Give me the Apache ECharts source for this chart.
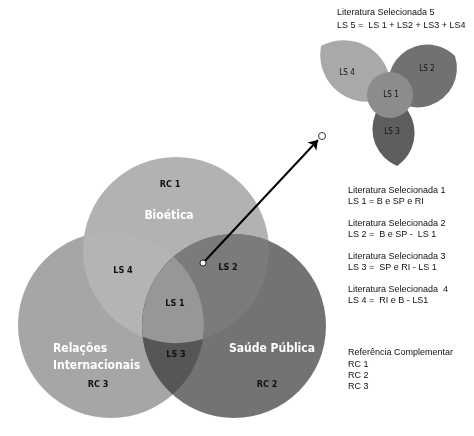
<!DOCTYPE html>
<html>
<head>
<meta charset="utf-8">
<script src="https://cdn.jsdelivr.net/npm/echarts@6/dist/echarts.min.js"></script>
<style>html,body{margin:0;background:#fff}#chart{width:474px;height:436px}</style>
</head>
<body>
<div id="chart"></div>
<script>
// big venn: circles [cx, cy, r]
const setNames = ['Bioética', 'Relações Internacionais', 'Saúde Pública'];
const circles = [[176, 250, 93], [111, 325, 93], [234, 326, 92]];
const circleColors = ['#b2b2b2', '#a6a6a6', '#737373'];
// pair overlaps: [i, j, label]
const pairs = [[0, 1, 'LS 4'], [0, 2, 'LS 2'], [1, 2, 'LS 3']];
const pairColors = ['#b4b4b4', '#7b7b7b', '#565656'];
const tripleColor = '#979797';
// small venn: petals from hub to tip, [tipX, tipY, halfWidth]
const hub = [390, 96];
const petals = [[321, 46, 27, 'LS 4'], [455, 56, 30, 'LS 2'], [397, 166, 21, 'LS 3']];
const petalColors = ['#a9a9a9', '#717171', '#5e5e5e'];
const hubCircle = [390, 95, 23, 'LS 1'];
const arrowLine = [[203, 263], [322, 136]];

const legendLines = [
  ['Literatura Selecionada 1', 'LS 1 = B e SP e RI'],
  ['Literatura Selecionada 2', 'LS 2 =  B e SP -  LS 1'],
  ['Literatura Selecionada 3', 'LS 3 =  SP e RI - LS 1'],
  ['Literatura Selecionada  4', 'LS 4 =  RI e B - LS1']
];
const refLines = ['Referência Complementar', 'RC 1', 'RC 2', 'RC 3'];

function intersect(a, b) {
  const dx = b[0] - a[0], dy = b[1] - a[1], d = Math.hypot(dx, dy);
  const l = (a[2] * a[2] - b[2] * b[2] + d * d) / (2 * d);
  const h = Math.sqrt(a[2] * a[2] - l * l);
  const mx = a[0] + dx * l / d, my = a[1] + dy * l / d;
  return [[mx + h * dy / d, my - h * dx / d], [mx - h * dy / d, my + h * dx / d]];
}
function inside(p, c) { return Math.hypot(p[0] - c[0], p[1] - c[1]) < c[2] + 0.01; }
function arc(c, A, B) {
  const cr = (A[0] - c[0]) * (B[1] - c[1]) - (A[1] - c[1]) * (B[0] - c[0]);
  return ' A ' + c[2] + ' ' + c[2] + ' 0 0 ' + (cr > 0 ? 1 : 0) + ' ' + B[0] + ' ' + B[1];
}
function lensPath(a, b) {
  const [P, Q] = intersect(a, b);
  return 'M ' + P[0] + ' ' + P[1] + arc(a, P, Q) + arc(b, Q, P) + ' Z';
}
function triplePath(cs) {
  const v01 = intersect(cs[0], cs[1]).find(p => inside(p, cs[2]));
  const v02 = intersect(cs[0], cs[2]).find(p => inside(p, cs[1]));
  const v12 = intersect(cs[1], cs[2]).find(p => inside(p, cs[0]));
  return 'M ' + v01[0] + ' ' + v01[1] + arc(cs[0], v01, v02) +
    arc(cs[2], v02, v12) + arc(cs[1], v12, v01) + ' Z';
}
function petalPath(h0, tip, hw) {
  const c = Math.hypot(tip[0] - h0[0], tip[1] - h0[1]) / 2;
  const R = (c * c + hw * hw) / (2 * hw);
  return 'M ' + h0[0] + ' ' + h0[1] + ' A ' + R + ' ' + R + ' 0 0 1 ' + tip[0] + ' ' + tip[1] +
    ' A ' + R + ' ' + R + ' 0 0 1 ' + h0[0] + ' ' + h0[1] + ' Z';
}

function renderShapes(params, api) {
  const px = p => api.coord([p[0], p[1]]);
  const pc = c => { const q = px(c); return [q[0], q[1], api.size([c[2], 0])[0]]; };
  const cs = circles.map(pc);
  const kids = [];
  cs.forEach((c, i) => kids.push({ type: 'circle', shape: { cx: c[0], cy: c[1], r: c[2] }, style: { fill: circleColors[i] } }));
  pairs.forEach((p, i) => kids.push({ type: 'path', shape: { pathData: lensPath(cs[p[0]], cs[p[1]]) }, style: { fill: pairColors[i] } }));
  kids.push({ type: 'path', shape: { pathData: triplePath(cs) }, style: { fill: tripleColor } });
  const h0 = px(hub);
  petals.forEach((p, i) => kids.push({ type: 'path', shape: { pathData: petalPath(h0, px(p), p[2]) }, style: { fill: petalColors[i] } }));
  const hc = pc(hubCircle);
  kids.push({ type: 'circle', shape: { cx: hc[0], cy: hc[1], r: hc[2] }, style: { fill: '#8c8c8c' } });
  return { type: 'group', children: kids };
}

const FONT = '"Liberation Sans Narrow", "Liberation Sans", sans-serif';
const texts = [];
function t(x, y, s, o) {
  texts.push({ type: 'text', x: x, y: y, z: 10, style: Object.assign({ text: s, font: '9px ' + FONT, fill: '#111', align: 'left', verticalAlign: 'middle' }, o || {}) });
}
const lbl = { font: 'bold 9px "DejaVu Sans Condensed", sans-serif', align: 'center' };
const big = { font: 'bold 12px "DejaVu Sans Condensed", sans-serif', fill: '#fff' };
t(170, 185, 'RC 1', lbl);
t(169, 216, setNames[0], Object.assign({}, big, { align: 'center' }));
t(123, 271, pairs[0][2], lbl);
t(228, 268, pairs[1][2], lbl);
t(175, 304, 'LS 1', lbl);
t(176, 355, pairs[2][2], lbl);
t(53, 349, 'Relações', big);
t(53, 366, 'Internacionais', big);
t(98, 385, 'RC 3', lbl);
t(272, 349, setNames[2], Object.assign({}, big, { align: 'center' }));
t(267, 385, 'RC 2', lbl);
const sm = { font: '8px "DejaVu Sans Condensed", sans-serif', align: 'center' };
t(347, 73, petals[0][3], sm);
t(427, 69, petals[1][3], sm);
t(391, 95, hubCircle[3], sm);
t(392, 132, petals[2][3], sm);
t(337, 13, 'Literatura Selecionada 5');
t(337, 26, 'LS 5 =  LS 1 + LS2 + LS3 + LS4');
legendLines.forEach((l, i) => { t(348, 191 + i * 32.7, l[0]); t(348, 202 + i * 32.7, l[1]); });
refLines.forEach((l, i) => t(348, 353 + i * 11.2, l));

const chart = echarts.init(document.getElementById('chart'));
chart.setOption({
  animation: false,
  grid: { left: 0, right: 0, top: 0, bottom: 0 },
  xAxis: { type: 'value', min: 0, max: 474, show: false },
  yAxis: { type: 'value', min: 0, max: 436, inverse: true, show: false },
  graphic: texts,
  series: [
    { type: 'custom', z: 1, renderItem: renderShapes, data: [[0, 0]], silent: true },
    {
      type: 'lines', coordinateSystem: 'cartesian2d', z: 5,
      symbol: ['none', 'arrow'], symbolSize: [0, 9],
      lineStyle: { color: '#000', width: 2, opacity: 1 },
      data: [{ coords: [arrowLine[0], [arrowLine[1][0] - 4, arrowLine[1][1] + 4]] }]
    },
    {
      type: 'scatter', z: 6, symbolSize: d => d[2],
      data: [[arrowLine[0][0], arrowLine[0][1], 6], [arrowLine[1][0], arrowLine[1][1], 7]],
      itemStyle: { color: '#fff', borderColor: '#000', borderWidth: 0.8, opacity: 1 }
    }
  ]
});
</script>
</body>
</html>
